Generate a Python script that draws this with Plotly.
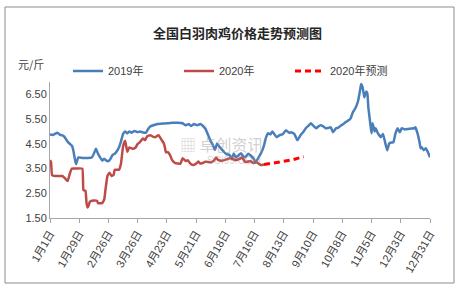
import plotly.graph_objects as go

# 2019 series: day-of-year index and price (元/斤)
days_2019 = [0, 3, 7, 10, 12, 14, 17, 19, 21, 22, 24, 25, 27, 31, 36, 40, 42, 44, 46, 48, 50, 52, 54, 56, 58,
             60, 62, 64, 66, 68, 70, 72, 74, 76, 78, 81, 84, 86, 89, 92, 94, 96, 99, 103, 108, 112, 117, 122,
             127, 130, 133, 135, 138, 141, 144, 147, 149, 152, 154, 156, 158, 160, 163, 166, 169, 172, 174,
             176, 178, 181, 183, 185, 187, 190, 192, 195, 197, 200, 203, 205, 207, 209, 211, 213, 217, 220,
             223, 226, 229, 231, 234, 237, 240, 243, 245, 248, 250, 253, 255, 257, 259, 262, 264, 267, 269,
             271, 274, 276, 279, 281, 283, 286, 288, 290, 293, 295, 297, 298, 299, 300, 301, 303, 304, 305,
             307, 308, 309, 311, 312, 314, 317, 319, 321, 323, 325, 327, 329, 331, 333, 335, 337, 340, 343,
             346, 349, 350, 352, 354, 355, 356, 358, 360, 362, 364]
price_2019 = [4.88, 4.86, 4.95, 4.86, 4.84, 4.77, 4.58, 4.50, 4.42, 4.30, 3.85, 3.68, 3.95, 3.93, 3.93, 3.95,
              4.10, 4.30, 4.10, 3.95, 3.82, 3.90, 3.82, 3.80, 3.90, 4.05, 4.10, 4.20, 4.35, 4.60, 4.90, 5.00,
              4.92, 5.00, 4.95, 5.02, 4.97, 5.00, 4.96, 4.95, 5.10, 5.20, 5.25, 5.30, 5.32, 5.33, 5.35, 5.35,
              5.33, 5.25, 5.30, 5.22, 5.30, 5.25, 5.30, 5.20, 5.10, 4.80, 4.60, 4.45, 4.25, 4.50, 4.35, 4.20,
              4.08, 4.05, 3.90, 4.10, 3.96, 4.05, 4.12, 4.00, 3.96, 4.10, 4.04, 3.90, 3.76, 3.96, 4.20, 4.44,
              4.77, 4.93, 4.88, 5.00, 4.77, 4.85, 4.89, 5.05, 4.95, 4.97, 4.90, 4.65, 4.85, 5.00, 5.13, 5.25,
              5.33, 5.20, 5.13, 5.20, 5.25, 5.20, 5.13, 5.15, 5.17, 4.97, 5.13, 5.15, 5.25, 5.30, 5.37, 5.45,
              5.53, 5.77, 5.98, 6.22, 6.66, 6.92, 6.85, 6.66, 6.38, 6.62, 6.54, 5.94, 5.25, 4.93, 5.33, 5.00,
              5.13, 4.93, 4.77, 4.90, 4.56, 4.24, 4.52, 4.55, 4.56, 4.93, 5.13, 4.97, 5.13, 5.08, 5.10, 5.12,
              5.13, 5.17, 4.93, 4.56, 4.32, 4.36, 4.24, 4.32, 4.16, 3.96]

# 2020 series
days_2020 = [0, 1, 2, 5, 10, 12, 14, 16, 17, 19, 21, 25, 31, 32, 34, 35, 36, 37, 38, 40, 45, 46, 50, 52, 53,
             55, 57, 59, 61, 62, 66, 68, 70, 72, 74, 76, 79, 82, 84, 86, 89, 91, 93, 96, 99, 101, 104, 107,
             109, 110, 111, 113, 115, 117, 120, 125, 127, 130, 132, 134, 137, 140, 142, 144, 146, 149, 154,
             157, 159, 161, 165, 168, 171, 173, 178, 183, 184, 187, 192, 195, 198, 202, 205]
price_2020 = [3.84, 3.75, 3.23, 3.20, 3.20, 3.20, 3.12, 3.03, 3.00, 3.30, 3.50, 3.50, 3.50, 2.63, 2.60, 2.10,
              1.92, 2.00, 2.15, 2.20, 2.20, 2.10, 2.10, 2.25, 2.60, 3.20, 3.33, 3.20, 3.25, 3.45, 3.45, 3.70,
              4.40, 4.62, 4.18, 4.35, 4.30, 4.35, 4.50, 4.56, 4.72, 4.65, 4.80, 4.85, 4.78, 4.77, 4.85, 4.65,
              4.52, 4.36, 4.16, 4.16, 4.04, 3.84, 3.72, 3.70, 3.92, 3.80, 3.84, 3.72, 3.64, 3.70, 3.78, 3.70,
              3.72, 3.78, 3.75, 3.82, 3.95, 3.85, 3.82, 3.85, 3.90, 3.92, 3.84, 3.92, 3.96, 3.76, 3.80, 3.72,
              3.76, 3.64, 3.66]

# 2020 forecast
days_fc = [205, 211, 219, 226, 232, 238, 243]
price_fc = [3.66, 3.70, 3.75, 3.78, 3.85, 3.92, 3.98]

tick_days = [0, 28, 56, 84, 112, 140, 168, 196, 224, 252, 280, 308, 336, 364]
tick_labels = ["1月1日", "1月29日", "2月26日", "3月26日", "4月23日", "5月21日", "6月18日", "7月16日",
               "8月13日", "9月10日", "10月8日", "11月5日", "12月3日", "12月31日"]

FONT = "Liberation Sans, Noto Sans CJK SC, sans-serif"

fig = go.Figure()
fig.add_trace(go.Scatter(x=days_2019, y=price_2019, mode="lines", name="2019年",
                         line=dict(color="#4A7EBB", width=2.5, shape="spline", smoothing=0.3)))
fig.add_trace(go.Scatter(x=days_2020, y=price_2020, mode="lines", name="2020年",
                         line=dict(color="#BE4B48", width=2.5, shape="spline", smoothing=0.3)))
fig.add_trace(go.Scatter(x=days_fc, y=price_fc, mode="lines", name="2020年预测",
                         line=dict(color="#FF0000", width=3, dash="6px,4px")))

L, R, T, B = 50, 31, 82, 75
W, H = 461, 293
pw, ph = W - L - R, H - T - B

def px_x(p):
    return (p - L) / pw

def px_y(p):
    return (H - B - p) / ph

fig.update_layout(
    width=W, height=H,
    margin=dict(l=L, r=R, t=T, b=B),
    paper_bgcolor="white", plot_bgcolor="white",
    font=dict(family=FONT, size=11, color="#404040"),
    showlegend=True,
    legend=dict(orientation="h", x=px_x(68), y=px_y(71), xanchor="left", yanchor="middle",
                font=dict(size=11, color="#404040"), entrywidth=66, bgcolor="rgba(0,0,0,0)",
                itemwidth=30),
    xaxis=dict(range=[0, 364], tickmode="array", tickvals=tick_days, ticktext=tick_labels,
               tickangle=-60, showgrid=False, zeroline=False, showline=True, linecolor="#A6A6A6",
               linewidth=1, ticks="outside", ticklen=4, tickcolor="#A6A6A6",
               tickfont=dict(size=11, color="#404040")),
    yaxis=dict(range=[1.5, 7.0], tick0=1.5, dtick=1, tickformat=".2f", showgrid=False,
               zeroline=False, showline=True, linecolor="#A6A6A6", linewidth=1,
               ticks="", tickfont=dict(size=11, color="#404040")),
)

# chart border
fig.add_shape(type="rect", xref="paper", yref="paper",
              x0=px_x(5), x1=px_x(454), y0=px_y(283), y1=px_y(7),
              line=dict(color="#8C8C8C", width=1), layer="below")

# title
fig.add_annotation(text="<b>全国白羽肉鸡价格走势预测图</b>", xref="paper", yref="paper",
                   x=px_x(237), y=px_y(32), xanchor="center", yanchor="middle", showarrow=False,
                   font=dict(size=13, color="#262626", family="Noto Sans CJK SC"))
# unit
fig.add_annotation(text="元/斤", xref="paper", yref="paper", x=px_x(16), y=px_y(64),
                   xanchor="left", yanchor="middle", showarrow=False,
                   font=dict(size=11, color="#404040", family="Noto Sans CJK SC"))
# watermark
fig.add_annotation(text="▦ 卓创资讯", xref="paper", yref="paper", x=px_x(178), y=px_y(144),
                   xanchor="left", yanchor="middle", showarrow=False,
                   font=dict(size=16, color="rgba(150,150,150,0.45)", family="Noto Sans CJK SC"))
fig.add_annotation(text="SCI99.COM", xref="paper", yref="paper", x=px_x(205), y=px_y(160),
                   xanchor="left", yanchor="middle", showarrow=False,
                   font=dict(size=10, color="rgba(150,150,150,0.45)"))

fig.write_html("out.html")
